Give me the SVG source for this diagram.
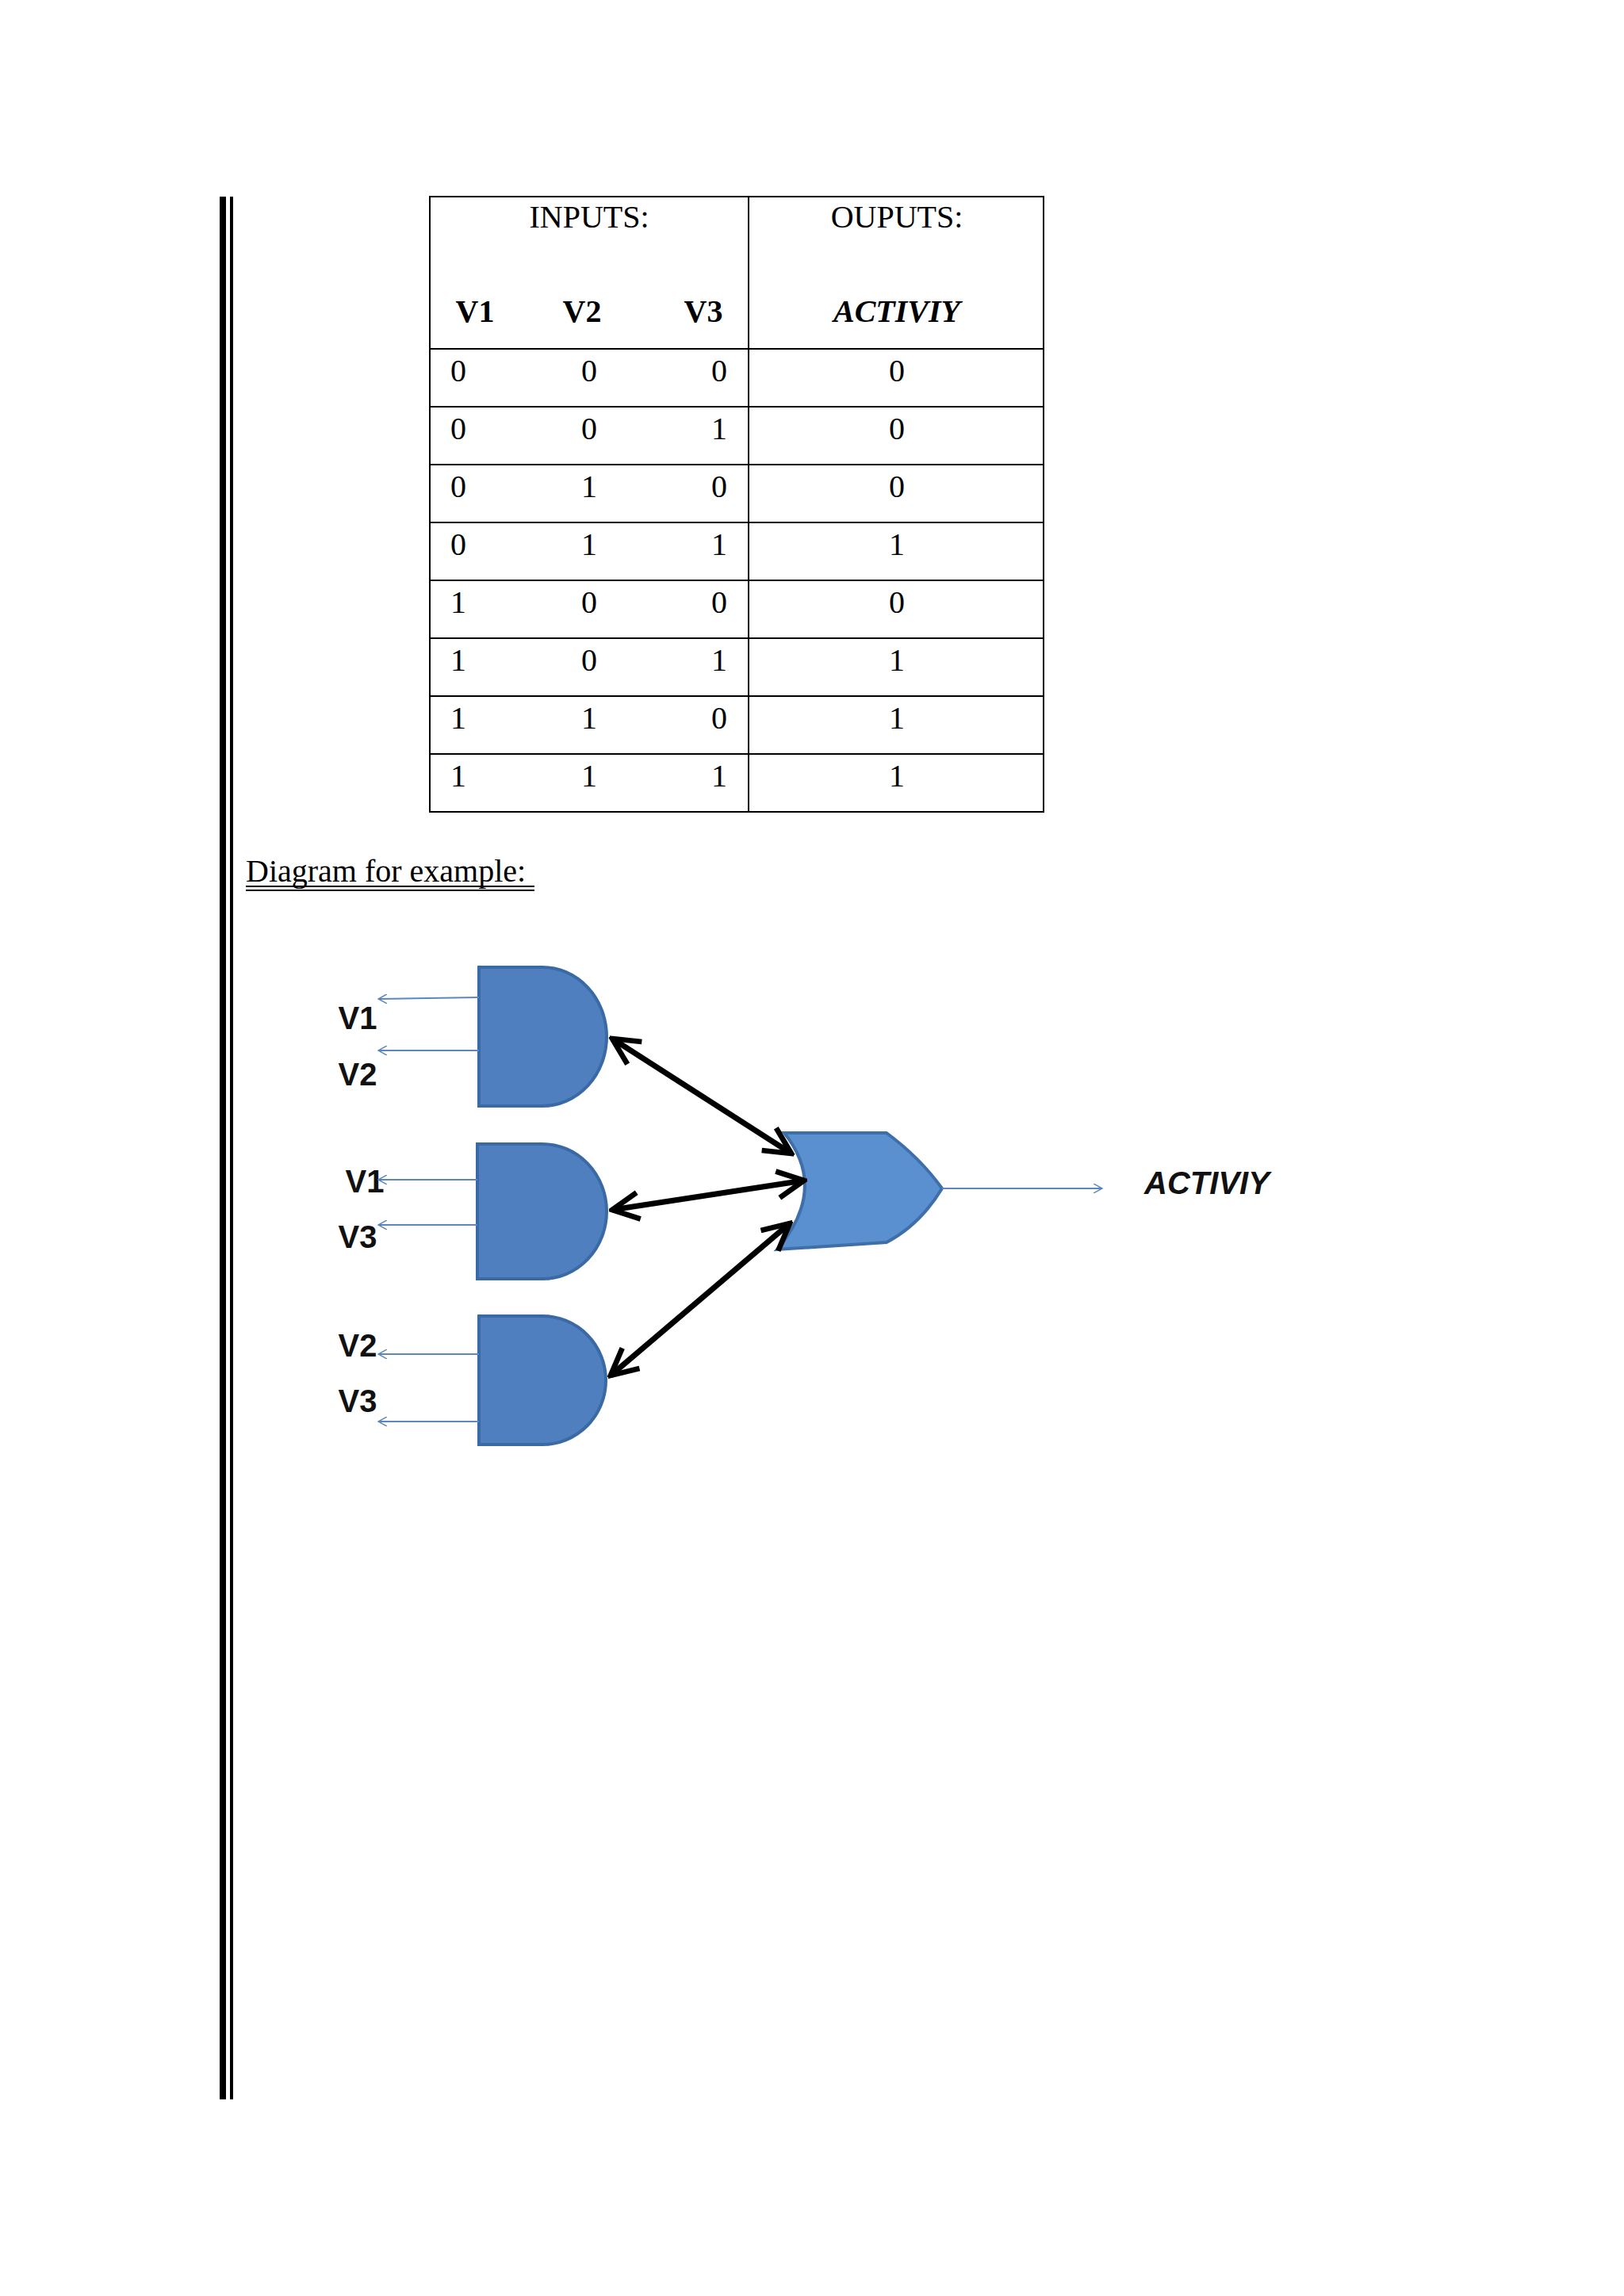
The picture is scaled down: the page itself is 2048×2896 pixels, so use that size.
<svg xmlns="http://www.w3.org/2000/svg" width="2048" height="2896" viewBox="0 0 2048 2896">
<style>
.t{font-family:"Liberation Serif",serif;font-size:40px;fill:#000}
.c{text-anchor:middle}
.b{font-weight:bold}
.g{font-family:"Liberation Sans",sans-serif;font-weight:bold;font-size:40px;fill:#111;text-anchor:middle}
.and{fill:#4f7fbf;stroke:#3a6aa5;stroke-width:4}
.in{stroke:#5b86c0;stroke-width:2;fill:none}
.bk{stroke:#000;stroke-width:7;fill:none}
.grid{stroke:#000;stroke-width:2;fill:none}
</style>
<defs>
<marker id="oa" viewBox="0 0 12 12" refX="11" refY="6" markerWidth="12" markerHeight="12" markerUnits="userSpaceOnUse" orient="auto-start-reverse"><path d="M0,0 L11,6 L0,12" fill="none" stroke="#5b86c0" stroke-width="1.5"/></marker>
<marker id="ba" viewBox="0 0 10 10" refX="9" refY="5" markerWidth="6" markerHeight="6" orient="auto-start-reverse"><path d="M1,1 L9,5 L1,9" fill="none" stroke="#000" stroke-width="1.6"/></marker>
</defs>
<rect width="2048" height="2896" fill="#fff"/>
<g id="margin">
<rect x="277" y="248" width="8" height="2400" fill="#000"/>
<rect x="290" y="248" width="4" height="2400" fill="#000"/>
</g>
<g id="table">
<rect class="grid" x="542" y="248" width="774" height="776"/>
<line class="grid" x1="944" y1="248" x2="944" y2="1024"/>
<g class="grid">
<line x1="542" y1="440" x2="1316" y2="440"/><line x1="542" y1="513" x2="1316" y2="513"/>
<line x1="542" y1="586" x2="1316" y2="586"/><line x1="542" y1="659" x2="1316" y2="659"/>
<line x1="542" y1="732" x2="1316" y2="732"/><line x1="542" y1="805" x2="1316" y2="805"/>
<line x1="542" y1="878" x2="1316" y2="878"/><line x1="542" y1="951" x2="1316" y2="951"/>
</g>
<text class="t c" x="743" y="287">INPUTS:</text>
<text class="t c" x="1131" y="287">OUPUTS:</text>
<text class="t c b" x="599" y="406">V1</text>
<text class="t c b" x="734" y="406">V2</text>
<text class="t c b" x="887" y="406">V3</text>
<text class="t c b" x="1131" y="406" font-style="italic">ACTIVIY</text>
<g class="t c">
<text x="578" y="481">0</text><text x="743" y="481">0</text><text x="907" y="481">0</text><text x="1131" y="481">0</text>
<text x="578" y="554">0</text><text x="743" y="554">0</text><text x="907" y="554">1</text><text x="1131" y="554">0</text>
<text x="578" y="627">0</text><text x="743" y="627">1</text><text x="907" y="627">0</text><text x="1131" y="627">0</text>
<text x="578" y="700">0</text><text x="743" y="700">1</text><text x="907" y="700">1</text><text x="1131" y="700">1</text>
<text x="578" y="773">1</text><text x="743" y="773">0</text><text x="907" y="773">0</text><text x="1131" y="773">0</text>
<text x="578" y="846">1</text><text x="743" y="846">0</text><text x="907" y="846">1</text><text x="1131" y="846">1</text>
<text x="578" y="919">1</text><text x="743" y="919">1</text><text x="907" y="919">0</text><text x="1131" y="919">1</text>
<text x="578" y="992">1</text><text x="743" y="992">1</text><text x="907" y="992">1</text><text x="1131" y="992">1</text>
</g>
</g>
<g id="caption">
<text class="t" x="310" y="1112">Diagram for example:</text>
<line x1="310" y1="1118" x2="674" y2="1118" stroke="#000" stroke-width="2"/>
<line x1="310" y1="1123" x2="674" y2="1123" stroke="#000" stroke-width="2"/>
</g>
<g id="and1"><path class="and" d="M604,1220 H684 A81,87.5 0 0 1 684,1395 H604 Z"/></g>
<g id="and2"><path class="and" d="M602,1443 H684 A81,85 0 0 1 684,1613 H602 Z"/></g>
<g id="and3"><path class="and" d="M604,1660 H684 A80,81 0 0 1 684,1822 H604 Z"/></g>
<g id="or"><path d="M989,1429 H1118 Q1160,1460 1188,1499 Q1160,1545 1118,1567 L980,1576 Q1045,1499 989,1429 Z" fill="#5a8fd0" stroke="#3f6fa8" stroke-width="4"/></g>
<g id="labels">
<text class="g" x="451" y="1298">V1</text><text class="g" x="451" y="1369">V2</text>
<text class="g" x="460" y="1504">V1</text><text class="g" x="451" y="1574">V3</text>
<text class="g" x="451" y="1711">V2</text><text class="g" x="451" y="1781">V3</text>
<text class="g" x="1522" y="1506" font-style="italic">ACTIVIY</text>
</g>
<g id="connectors">
<line class="in" x1="604" y1="1258" x2="477" y2="1260" marker-end="url(#oa)"/>
<line class="in" x1="604" y1="1325" x2="477" y2="1325" marker-end="url(#oa)"/>
<line class="in" x1="602" y1="1488" x2="477" y2="1488" marker-end="url(#oa)"/>
<line class="in" x1="602" y1="1545" x2="477" y2="1545" marker-end="url(#oa)"/>
<line class="in" x1="604" y1="1708" x2="477" y2="1708" marker-end="url(#oa)"/>
<line class="in" x1="604" y1="1793" x2="477" y2="1793" marker-end="url(#oa)"/>
<line class="in" x1="1188" y1="1499" x2="1390" y2="1499" marker-end="url(#oa)"/>
<line class="bk" x1="772" y1="1310" x2="998" y2="1455" marker-start="url(#ba)" marker-end="url(#ba)"/>
<line class="bk" x1="772" y1="1526" x2="1014" y2="1489" marker-start="url(#ba)" marker-end="url(#ba)"/>
<line class="bk" x1="770" y1="1735" x2="996" y2="1543" marker-start="url(#ba)" marker-end="url(#ba)"/>
</g>
</svg>
